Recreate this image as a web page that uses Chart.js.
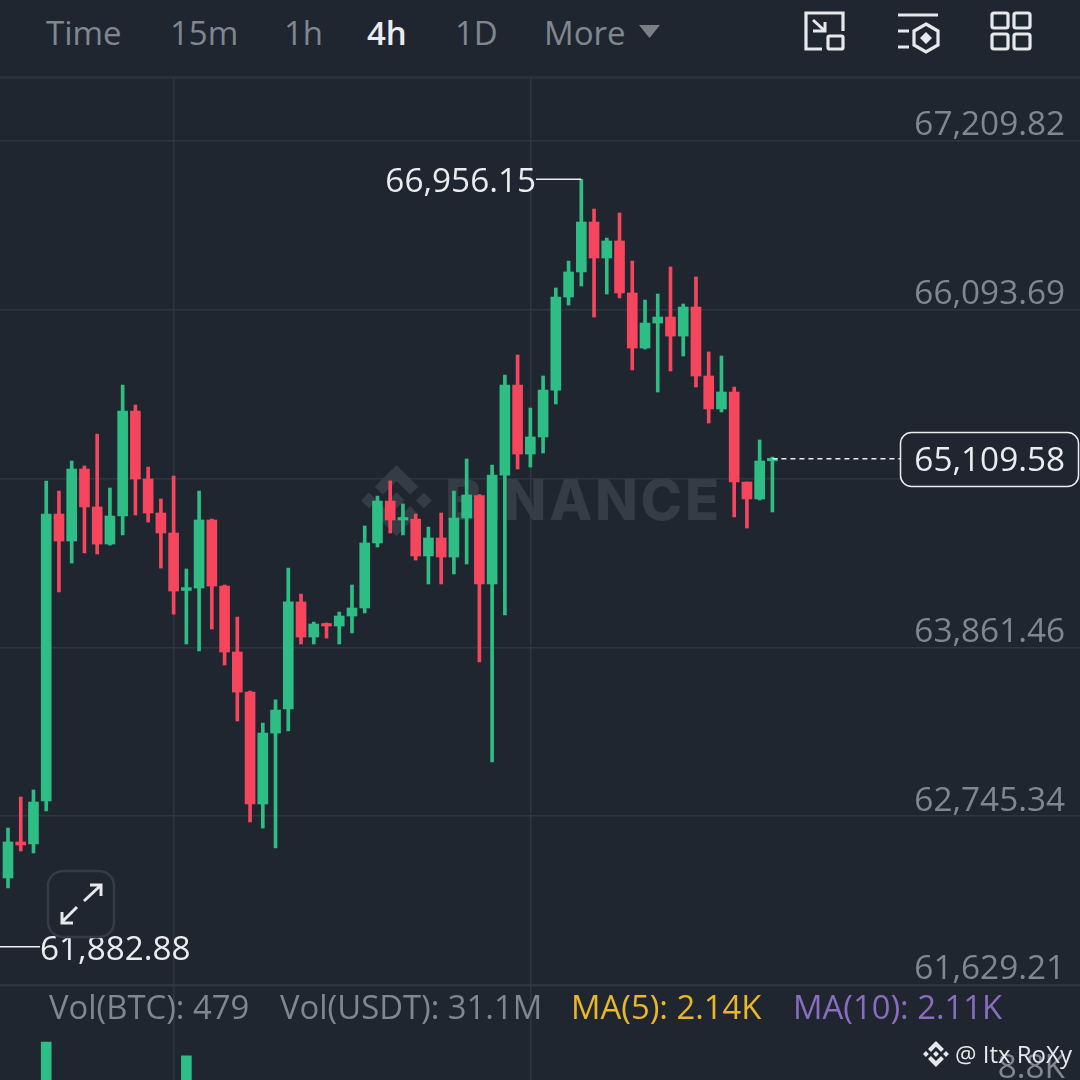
<!DOCTYPE html>
<html>
<head>
<meta charset="utf-8">
<style>
html,body{margin:0;padding:0;width:1080px;height:1080px;overflow:hidden;background:#1f2630;}
#wrap{position:relative;width:1080px;height:1080px;overflow:hidden;font-family:"Open Sans",sans-serif;}
canvas{position:absolute;left:0;top:0;}
#head{position:absolute;left:0;top:0;width:1080px;height:76px;background:#1f2630;border-bottom:3px solid #2a313b;}
.t{position:absolute;white-space:nowrap;line-height:1;}
.h{top:16px;font-size:33px;color:#7f8791;}
.f{top:991px;font-size:32.8px;color:#7f8791;}
svg{position:absolute;overflow:visible;}
</style>
</head>
<body>
<div id="wrap">
<canvas id="c" width="1080" height="1180" style="width:1080px;height:1180px"></canvas>
<div id="head">
<span class="t h" style="left:46px">Time</span>
<span class="t h" style="left:170px">15m</span>
<span class="t h" style="left:284px">1h</span>
<span class="t h" style="left:367px;color:#eaecef;font-weight:600">4h</span>
<span class="t h" style="left:455px">1D</span>
<span class="t h" style="left:544px">More</span>
</div>
<svg style="left:0;top:0" width="1080" height="1080" fill="none" stroke="#e6e8ec" stroke-width="3.2">
<polygon points="639,25 660,25 649.5,38" fill="#7b7f86" stroke="none"/>
<path d="M822 49H806V13H843V31"/><rect x="828" y="36" width="15" height="13" rx="1.5"/>
<path d="M813 20L825 31M825 22V31H813" stroke-width="3"/>
<path d="M898 15H938M898 31H909M898 47H909"/>
<polygon points="926,24 938,31 938,45 926,52 914,45 914,31"/>
<polygon points="926,32 932,38 926,44 920,38" fill="#e6e8ec" stroke="none"/>
<rect x="992" y="13" width="16" height="15" rx="2"/><rect x="1014" y="13" width="16" height="15" rx="2"/>
<rect x="992" y="34" width="16" height="15" rx="2"/><rect x="1014" y="34" width="16" height="15" rx="2"/>
<rect x="48" y="871" width="66" height="66" rx="15" stroke="#363c46" stroke-width="2.5"/>
<path d="M84 901L100 886M90 885H101V896M77 907L62 922M62 912V923H73" stroke-width="3"/>
<path fill="#e6e8ec" stroke="none" transform="translate(923,1041) scale(0.205)" d="M38.73 53.2L63.3 28.63l24.59 24.58 14.3-14.3L63.3 0 24.43 38.88zM0 63.31l14.3-14.3 14.3 14.3-14.3 14.3zM38.73 73.41L63.3 97.98l24.59-24.58 14.3 14.3-38.89 38.88L24.43 87.73zM97.98 63.31l14.3-14.3 14.3 14.3-14.3 14.3zM77.83 63.3L63.3 48.78 52.55 59.53l-1.24 1.24-2.54 2.54 14.53 14.52 14.53-14.53z"/>
</svg>
<span class="t f" style="left:49px">Vol(BTC): 479</span>
<span class="t f" style="left:280px">Vol(USDT): 31.1M</span>
<span class="t f" style="left:571px;color:#e9b62c">MA(5): 2.14K</span>
<span class="t f" style="left:793px;color:#8a6cc0">MA(10): 2.11K</span>
<span class="t" style="left:955px;top:1042px;font-size:24px;color:#e6e8ec">@ Itx RoXy</span>
</div>
<script src="https://cdn.jsdelivr.net/npm/chart.js@4"></script>
<script>
const opens=[62337,62575,62562,62846,64743,64565,65041,64790,64545,64730,65424,64975,64750,64618,64238,64254,64704,64267,63831,63566,62826,63295,63454,64162,63930,64016,64003,64069,64122,64552,64829,64704,64710,64466,64585,64459,64717,64866,64281,65001,65596,65140,65253,65563,66178,66344,66674,66436,66549,66205,65841,66006,66046,65920,66112,65656,65438,65550,64955,64843,65095];
const closes=[62575,62555,62839,64743,64565,65041,64790,64545,64730,65424,64975,64750,64618,64234,64257,64704,64267,63831,63566,62826,63295,63447,64162,63930,64016,64003,64069,64122,64552,64829,64704,64720,64466,64585,64459,64717,64869,64281,65001,65596,65140,65253,65563,66178,66344,66674,66436,66549,66205,65841,66006,66046,65920,66112,65656,65438,65550,64955,64843,65094,65109.58];
const highs=[62667,62872,62919,64962,64895,65094,65061,65272,64915,65596,65464,65054,64843,64995,64380,64895,64710,64274,64062,63573,63361,63514,64386,64214,64029,64023,64095,64274,64664,64862,64962,64810,64743,64657,64750,64895,65107,64872,65067,65662,65795,65444,65656,66238,66416,66956.15,66760,66568,66734,66416,66158,66198,66377,66132,66311,65815,65788,65583,64955,65233,65120];
const lows=[62271,62515,62502,62780,64228,64419,64486,64479,64538,64605,64737,64690,64386,64082,63884,63838,63983,63745,63375,62707,62667,62535,63309,63884,63884,63923,63884,63957,64089,64525,64618,64605,64439,64281,64281,64347,64413,63765,63104,64076,65041,65054,65147,65471,66125,66251,66046,66198,66172,65696,65834,65550,65689,65788,65583,65345,65418,64724,64651,64836,64757];
const priceTicks=[67209.82,66093.69,64977.57,63861.46,62745.34,61629.21];
const hiddenTick=64977.57;
const timeGridIndexes=[13,41];
const volumeIndexes=[3,14];
const volumeValues=[12780,11490];
const volumeTick=[8800];
const peakValue=66956.15, peakIndex=45;
const troughValue=61882.88;
const lastPrice=65109.58, lastIndex=60;

const GREEN='#2ebd85',RED='#f6465d',WHITE='#eaecef',GRAY='#7f8791',BG='#1f2630',FONT='"Open Sans"';
const colors=closes.map((c,i)=>c>=opens[i]?GREEN:RED);
const logo=new Path2D("M38.73 53.2L63.3 28.63l24.59 24.58 14.3-14.3L63.3 0 24.43 38.88zM0 63.31l14.3-14.3 14.3 14.3-14.3 14.3zM38.73 73.41L63.3 97.98l24.59-24.58 14.3 14.3-38.89 38.88L24.43 87.73zM97.98 63.31l14.3-14.3 14.3 14.3-14.3 14.3zM77.83 63.3L63.3 48.78 52.55 59.53l-1.24 1.24-2.54 2.54 14.53 14.52 14.53-14.53z");
const fmt=v=>v.toLocaleString('en-US',{minimumFractionDigits:2,maximumFractionDigits:2});
const flatten=s=>{s.width=0;s.paddingTop=0;s.paddingBottom=0;s.paddingLeft=0;s.paddingRight=0;};

const watermark={id:'watermark',beforeDatasetsDraw(ch){
  const g=ch.ctx;g.save();g.fillStyle='#363c46';
  g.save();g.translate(361,465);g.scale(0.56,0.56);g.fill(logo);g.restore();
  g.font='800 56px Inter';g.letterSpacing='2.7px';g.textAlign='left';g.textBaseline='alphabetic';
  g.fillText('BINANCE',445,520);g.restore();
}};
const marks={id:'marks',afterDatasetsDraw(ch){
  const g=ch.ctx,x=ch.scales.x,y=ch.scales.y;g.save();
  g.font='33.3px '+FONT;g.textBaseline='middle';g.fillStyle=WHITE;g.strokeStyle=WHITE;g.lineWidth=1.5;
  const py=y.getPixelForValue(peakValue),px=x.getPixelForValue(peakIndex);
  g.beginPath();g.moveTo(536,py);g.lineTo(px,py);g.stroke();
  g.textAlign='right';g.fillText(fmt(peakValue),536,py+3);
  const ty=y.getPixelForValue(troughValue);
  g.beginPath();g.moveTo(0,ty);g.lineTo(40,ty);g.stroke();
  g.textAlign='left';g.fillText(fmt(troughValue),40,ty+3.5);
  const ly=y.getPixelForValue(lastPrice),lx=x.getPixelForValue(lastIndex);
  g.setLineDash([5,4]);g.beginPath();g.moveTo(lx,ly);g.lineTo(900,ly);g.stroke();g.setLineDash([]);
  g.beginPath();g.roundRect(900.5,432.5,178,54,11);g.fillStyle=BG;g.fill();g.stroke();
  g.fillStyle=WHITE;g.textAlign='right';g.fillText(fmt(lastPrice),1065,ly+3);
  g.restore();
}};
const idx=opens.map((_,i)=>i);
new Chart(document.getElementById('c'),{
  type:'bar',
  data:{datasets:[
    {label:'Volume',yAxisID:'y2',data:volumeIndexes.map((x,i)=>({x,y:volumeValues[i]})),backgroundColor:GREEN,barThickness:10,grouped:false,order:3},
    {label:'Wick',yAxisID:'y',data:idx.map(i=>({x:i,y:[lows[i],highs[i]]})),backgroundColor:colors,barThickness:3,grouped:false,order:2},
    {label:'Body',yAxisID:'y',data:idx.map(i=>({x:i,y:[opens[i],closes[i]]})),backgroundColor:colors,barThickness:10,grouped:false,minBarLength:2.5,order:1}
  ]},
  options:{
    responsive:false,animation:false,devicePixelRatio:1,
    layout:{padding:0},
    plugins:{legend:{display:false},tooltip:{enabled:false}},
    scales:{
      x:{type:'linear',offset:false,min:-0.628,max:84.144,
        afterBuildTicks(s){s.ticks=timeGridIndexes.map(value=>({value}));},
        afterFit(s){s.height=0;s.paddingLeft=0;s.paddingRight=0;},
        grid:{offset:false,color:'#2f3641',lineWidth:1.5,drawTicks:false},border:{display:false},ticks:{display:false}},
      y:{position:'right',min:60339.9,max:68142.1,
        afterBuildTicks(s){s.ticks=priceTicks.map(value=>({value}));},
        afterFit:flatten,
        grid:{color:'#2f3641',lineWidth:c=>c.tick&&c.tick.value===61629.21?2.5:1.5,drawTicks:false},border:{display:false},
        ticks:{mirror:true,padding:-15,labelOffset:-15,color:GRAY,font:{family:FONT,size:33.3},callback:v=>v===hiddenTick?'':fmt(v)}},
      y2:{position:'right',min:0,max:109268,
        afterBuildTicks(s){s.ticks=volumeTick.map(value=>({value}));},
        afterFit:flatten,
        grid:{display:false,drawTicks:false},border:{display:false},
        ticks:{mirror:true,padding:-15,labelOffset:-16,color:GRAY,font:{family:FONT,size:33.3},callback:v=>(v/1000).toFixed(1)+'K'}}
    }
  },
  plugins:[watermark,marks]
});
</script>
</body>
</html>
